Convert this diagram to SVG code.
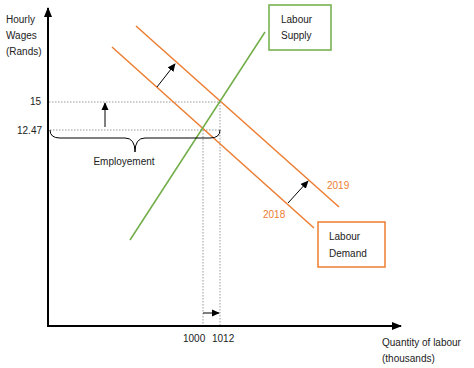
<svg xmlns="http://www.w3.org/2000/svg" width="474" height="368" viewBox="0 0 474 368">
<defs>
<marker id="ah" viewBox="0 0 10 10" refX="9" refY="5" markerWidth="8" markerHeight="8" orient="auto" markerUnits="userSpaceOnUse"><path d="M0,0.5 L10,5 L0,9.5 z" fill="#000"/></marker>
<marker id="axh" viewBox="0 0 10 10" refX="9" refY="5" markerWidth="10" markerHeight="10" orient="auto" markerUnits="userSpaceOnUse"><path d="M0,1 L10,5 L0,9 z" fill="#000"/></marker>
</defs>
<style>
text{font-family:"Liberation Sans",Arial,sans-serif;font-size:10px;fill:#222}
.or{fill:#ED7D31}
.dot{stroke:#999;stroke-width:1;stroke-dasharray:1.5,1.5;fill:none}
.arr{stroke:#000;stroke-width:1;fill:none;marker-end:url(#ah)}
</style>
<rect width="474" height="368" fill="#fff"/>
<g id="axes">
<line x1="48" y1="326" x2="48" y2="8" stroke="#000" stroke-width="2" marker-end="url(#axh)"/>
<line x1="47" y1="326" x2="401" y2="326" stroke="#000" stroke-width="2" marker-end="url(#axh)"/>
<text x="6" y="23">Hourly</text>
<text x="6" y="39">Wages</text>
<text x="6" y="55">(Rands)</text>
<text x="382" y="346">Quantity of labour</text>
<text x="382" y="362">(thousands)</text>
<text x="30" y="105">15</text>
<text x="17" y="134">12.47</text>
<text x="183" y="342">1000</text>
<text x="212" y="342">1012</text>
</g>
<g id="guides">
<line class="dot" x1="49" y1="102" x2="220" y2="102"/>
<line class="dot" x1="50" y1="130" x2="220" y2="130"/>
<line class="dot" x1="203" y1="130" x2="203" y2="325"/>
<line class="dot" x1="220" y1="102" x2="220" y2="325"/>
</g>
<g id="curves">
<line id="demand2018" x1="112" y1="47" x2="314" y2="228" stroke="#ED7D31" stroke-width="1.5"/>
<line id="demand2019" x1="136" y1="26" x2="339" y2="207" stroke="#ED7D31" stroke-width="1.5"/>
<line id="supply" x1="265" y1="32" x2="130" y2="240" stroke="#70AD47" stroke-width="1.5"/>
<text class="or" x="327" y="189">2019</text>
<text class="or" x="263" y="218">2018</text>
</g>
<g id="connectors">
<line class="arr" x1="157" y1="87" x2="175" y2="64"/>
<line class="arr" x1="288" y1="203" x2="308" y2="181"/>
<line class="arr" x1="105" y1="127" x2="105" y2="103"/>
<line class="arr" x1="203" y1="313" x2="219" y2="313"/>
</g>
<g id="brace">
<path d="M50,130 Q50,138 60,138 L125,138 Q135,138 135,152 Q135,138 145,138 L210,138 Q220,138 220,130" fill="none" stroke="#000" stroke-width="1"/>
<text x="124" y="165" text-anchor="middle">Employement</text>
</g>
<g id="labour-supply">
<rect x="269" y="5" width="62" height="45" fill="#fff" stroke="#70AD47" stroke-width="1.5"/>
<text x="281" y="23">Labour</text>
<text x="281" y="39">Supply</text>
</g>
<g id="labour-demand">
<rect x="318" y="222" width="67" height="45" fill="#fff" stroke="#ED7D31" stroke-width="1.5"/>
<text x="329" y="240">Labour</text>
<text x="329" y="257">Demand</text>
</g>
</svg>
